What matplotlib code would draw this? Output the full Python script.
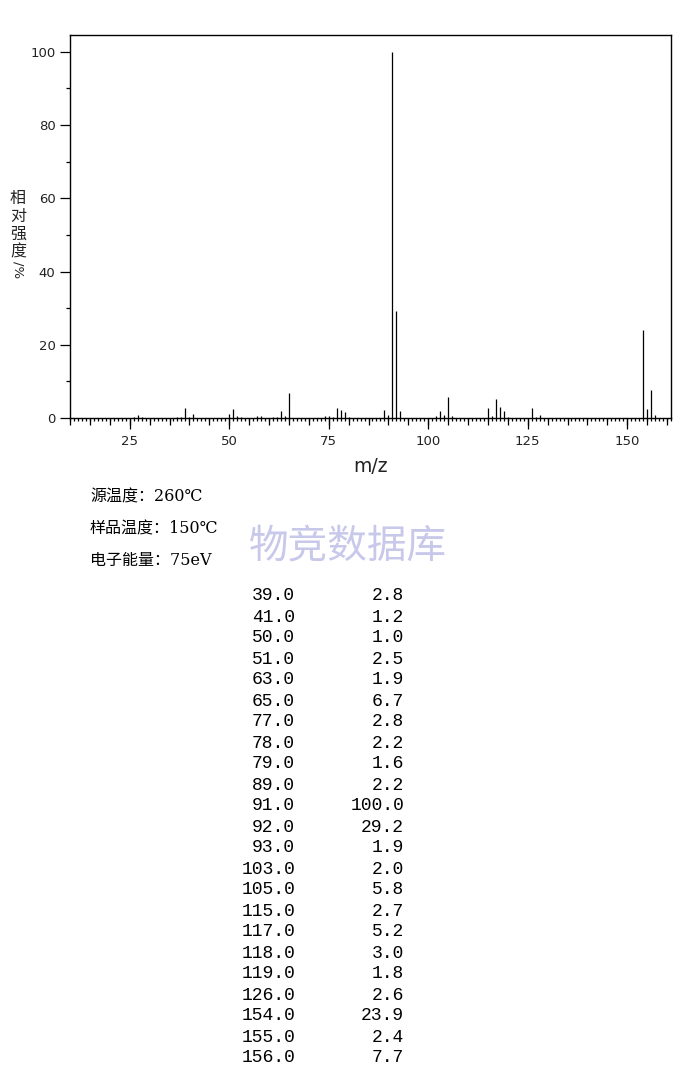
import matplotlib
matplotlib.use("Agg")
import matplotlib.pyplot as plt
from matplotlib.ticker import MultipleLocator, FixedLocator, NullFormatter

# ---- data ----
table_mz = [39.0, 41.0, 50.0, 51.0, 63.0, 65.0, 77.0, 78.0, 79.0, 89.0, 91.0, 92.0,
            93.0, 103.0, 105.0, 115.0, 117.0, 118.0, 119.0, 126.0, 154.0, 155.0, 156.0]
table_int = [2.8, 1.2, 1.0, 2.5, 1.9, 6.7, 2.8, 2.2, 1.6, 2.2, 100.0, 29.2,
             1.9, 2.0, 5.8, 2.7, 5.2, 3.0, 1.8, 2.6, 23.9, 2.4, 7.7]
# small peaks visible in the spectrum but not listed in the table
minor_mz = [26, 27, 28, 37, 38, 40, 52, 53, 57, 58, 61, 62, 64, 74, 75, 76, 80,
            90, 102, 104, 106, 116, 120, 127, 128, 157]
minor_int = [0.3, 0.8, 0.3, 0.3, 0.3, 0.3, 0.6, 0.3, 0.5, 0.5, 0.3, 0.3, 0.5,
             0.5, 0.5, 0.3, 0.3, 0.8, 0.5, 0.8, 0.5, 0.5, 0.3, 0.3, 0.8, 0.8]
x_major = [25, 50, 75, 100, 125, 150]
y_major = [0, 20, 40, 60, 80, 100]
info_lines = ["源温度：260℃", "样品温度：150℃", "电子能量：75eV"]
watermark = "物竞数据库"
xlabel = "m/z"
ylabel_chars = ["相", "对", "强", "度"]

W, H = 696, 1091
fig = plt.figure(figsize=(W / 100, H / 100), dpi=100)
fig.patch.set_facecolor("white")

def fx(px):
    return px / W

def fy(py):
    return 1 - py / H

ax = fig.add_axes([fx(70), fy(418), fx(671) - fx(70), fy(35) - fy(418)])
ax.set_xlim(10, 161)
ax.set_ylim(0, 104.6)

ax.vlines(table_mz + minor_mz, 0, table_int + minor_int, colors="black", linewidth=0.9)

for s in ax.spines.values():
    s.set_linewidth(1.0)
    s.set_color("black")

ax.xaxis.set_major_locator(FixedLocator(x_major))
ax.xaxis.set_minor_locator(MultipleLocator(1))
ax.yaxis.set_major_locator(FixedLocator(y_major))
ax.yaxis.set_minor_locator(MultipleLocator(10))
ax.tick_params(axis="x", which="major", length=8, width=0.9, direction="out", pad=4,
               labelsize=9.5, top=False)
ax.tick_params(axis="x", which="minor", length=2.5, width=0.9, direction="out", top=False)
ax.tick_params(axis="y", which="major", length=7.5, width=0.9, direction="out", pad=3,
               labelsize=9.5, right=False)
ax.tick_params(axis="y", which="minor", length=3.2, width=0.9, direction="out", right=False)
for lab in ax.get_xticklabels() + ax.get_yticklabels():
    lab.set_family("DejaVu Sans")
    lab.set_color("#222222")

# medium ticks every 5 units
sec = ax.secondary_xaxis("bottom")
sec.xaxis.set_major_locator(MultipleLocator(5))
sec.xaxis.set_major_formatter(NullFormatter())
sec.tick_params(axis="x", which="major", length=5.2, width=0.9, direction="out")
sec.spines["bottom"].set_visible(False)

fig.text(fx(370), fy(466), xlabel, ha="center", va="center", fontsize=13.5,
         family="DejaVu Sans", color="#222222")

# vertical y label
for i, ch in enumerate(ylabel_chars):
    fig.text(fx(18), fy(198 + 18 * i), ch, ha="center", va="center", fontsize=11.5,
             family=["Noto Sans CJK SC", "DejaVu Sans"], color="#222222")
fig.text(fx(18), fy(270), "/%", ha="center", va="center", fontsize=9.5, rotation=-90,
         family="DejaVu Sans", color="#222222")

# info lines
for i, line in enumerate(info_lines):
    fig.text(fx(90), fy(497 + 31.5 * i), line, ha="left", va="center", fontsize=11.5,
             family=["DejaVu Serif", "Noto Sans CJK SC"], color="black")

fig.text(fx(348), fy(546), watermark, ha="center", va="center", fontsize=28.5,
         family=["Noto Sans CJK SC", "DejaVu Sans"], color="#c8c8ea")

# peak table
for i, (m, v) in enumerate(zip(table_mz, table_int)):
    y = fy(596 + 21 * i)
    fig.text(fx(295), y, f"{m:.1f}", ha="right", va="center", fontsize=13,
             family="Liberation Mono", color="black")
    fig.text(fx(404), y, f"{v:.1f}", ha="right", va="center", fontsize=13,
             family="Liberation Mono", color="black")

fig.savefig("out.png", dpi=100, facecolor="white")
